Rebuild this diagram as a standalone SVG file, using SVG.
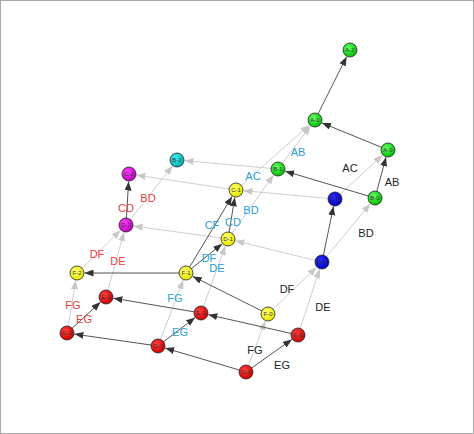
<svg xmlns="http://www.w3.org/2000/svg" width="474" height="434" viewBox="0 0 474 434">
<defs>
<marker id="ad" markerUnits="userSpaceOnUse" markerWidth="9" markerHeight="7" refX="9" refY="3.5" orient="auto"><path d="M0,0 L9,3.5 L0,7 z" fill="#333"/></marker>
<marker id="al" markerUnits="userSpaceOnUse" markerWidth="9" markerHeight="7" refX="9" refY="3.5" orient="auto"><path d="M0,0 L9,3.5 L0,7 z" fill="#c8c8c8"/></marker>
<radialGradient id="gG" cx="40%" cy="35%" r="65%"><stop offset="0" stop-color="#66ff66"/><stop offset="1" stop-color="#00c000"/></radialGradient>
<radialGradient id="gR" cx="40%" cy="35%" r="65%"><stop offset="0" stop-color="#ff4040"/><stop offset="1" stop-color="#d00000"/></radialGradient>
<radialGradient id="gY" cx="40%" cy="35%" r="65%"><stop offset="0" stop-color="#ffff70"/><stop offset="1" stop-color="#e8e800"/></radialGradient>
<radialGradient id="gB" cx="40%" cy="35%" r="65%"><stop offset="0" stop-color="#2a2aff"/><stop offset="1" stop-color="#0000c0"/></radialGradient>
<radialGradient id="gM" cx="40%" cy="35%" r="65%"><stop offset="0" stop-color="#ff40ff"/><stop offset="1" stop-color="#c000c0"/></radialGradient>
<radialGradient id="gC" cx="40%" cy="35%" r="65%"><stop offset="0" stop-color="#40f0f0"/><stop offset="1" stop-color="#00b0b8"/></radialGradient>
</defs>
<style>
.d{stroke:#555;stroke-width:1;fill:none;marker-end:url(#ad)}
.l{stroke:#cfcfcf;stroke-width:1;fill:none;marker-end:url(#al)}
.n circle{stroke:#222;stroke-width:0.8}
.n text{font-family:"Liberation Sans",Arial,sans-serif;font-size:6px;fill:#333;text-anchor:middle}
.e{font-family:"Liberation Sans",Arial,sans-serif;font-size:11px;text-anchor:middle}
.k{fill:#222}.b{fill:#2a9fd6}.r{fill:#ec3c3c}
</style>
<rect x="0.5" y="0.5" width="473" height="433" fill="#fff" stroke="#a8a8a8"/>
<g id="connectors">
<line class="l" x1="278" y1="169" x2="310.5" y2="126"/>
<line class="l" x1="335" y1="199" x2="382.5" y2="155.1"/>
<line class="l" x1="322" y1="262" x2="370.2" y2="203.8"/>
<line class="l" x1="268" y1="314" x2="316.6" y2="267.2"/>
<line class="l" x1="298" y1="335" x2="319.7" y2="269.1"/>
<line class="l" x1="246" y1="372" x2="265.3" y2="321"/>
<line class="l" x1="278" y1="169" x2="184.5" y2="160.7"/>
<line class="l" x1="335" y1="199" x2="243.5" y2="190.7"/>
<line class="l" x1="236" y1="190" x2="136.4" y2="175.1"/>
<line class="l" x1="322" y1="262" x2="235.3" y2="240.8"/>
<line class="l" x1="228" y1="239" x2="133.4" y2="226"/>
<line class="l" x1="236" y1="190" x2="309.4" y2="125"/>
<line class="l" x1="228" y1="239" x2="273.6" y2="175.1"/>
<line class="l" x1="201" y1="313" x2="225.4" y2="246"/>
<line class="l" x1="158" y1="346" x2="183.3" y2="280"/>
<line class="l" x1="126" y1="225" x2="172.4" y2="165.9"/>
<line class="l" x1="77" y1="273" x2="120.6" y2="230.3"/>
<line class="l" x1="106" y1="297" x2="124" y2="232.2"/>
<line class="l" x1="67" y1="333" x2="75.8" y2="280.4"/>
<line class="d" x1="315" y1="120" x2="346.6" y2="56.7"/>
<line class="d" x1="375" y1="198" x2="386" y2="157.2"/>
<line class="d" x1="388" y1="150" x2="321.9" y2="122.9"/>
<line class="d" x1="375" y1="198" x2="285.2" y2="171.2"/>
<line class="d" x1="322" y1="262" x2="333.5" y2="206.3"/>
<line class="d" x1="268" y1="314" x2="192.7" y2="276.4"/>
<line class="d" x1="298" y1="335" x2="208.3" y2="314.7"/>
<line class="d" x1="246" y1="372" x2="165.2" y2="348.1"/>
<line class="d" x1="246" y1="372" x2="291.9" y2="339.4"/>
<line class="d" x1="158" y1="346" x2="195.1" y2="317.6"/>
<line class="d" x1="67" y1="333" x2="100.5" y2="302.1"/>
<line class="d" x1="158" y1="346" x2="74.4" y2="334.1"/>
<line class="d" x1="201" y1="313" x2="113.4" y2="298.2"/>
<line class="d" x1="186" y1="273" x2="84.5" y2="273"/>
<line class="d" x1="186" y1="273" x2="232.1" y2="196.4"/>
<line class="d" x1="186" y1="273" x2="222.2" y2="243.7"/>
<line class="d" x1="228" y1="239" x2="234.8" y2="197.4"/>
<line class="d" x1="126" y1="225" x2="128.6" y2="181.5"/>
<text class="e k" x="392" y="186">AB</text>
<text class="e k" x="350" y="172">AC</text>
<text class="e k" x="366" y="237">BD</text>
<text class="e k" x="287" y="293">DF</text>
<text class="e k" x="323" y="311">DE</text>
<text class="e k" x="255" y="354">FG</text>
<text class="e k" x="282" y="369">EG</text>
<text class="e b" x="298" y="156">AB</text>
<text class="e b" x="253" y="180">AC</text>
<text class="e b" x="251" y="214">BD</text>
<text class="e b" x="233" y="226">CD</text>
<text class="e b" x="212" y="229">CF</text>
<text class="e b" x="209" y="262">DF</text>
<text class="e b" x="217" y="272">DE</text>
<text class="e b" x="175" y="302">FG</text>
<text class="e b" x="180" y="336">EG</text>
<text class="e r" x="148" y="202">BD</text>
<text class="e r" x="126" y="212">CD</text>
<text class="e r" x="97" y="258">DF</text>
<text class="e r" x="118" y="265">DE</text>
<text class="e r" x="73" y="309">FG</text>
<text class="e r" x="84" y="323">EG</text>
</g>
<g id="A-2" class="n"><circle cx="350" cy="50" r="7" fill="url(#gG)"/><text x="350" y="52">A-2</text></g>
<g id="A-1" class="n"><circle cx="315" cy="120" r="7" fill="url(#gG)"/><text x="315" y="122">A-1</text></g>
<g id="A-0" class="n"><circle cx="388" cy="150" r="7" fill="url(#gG)"/><text x="388" y="152">A-0</text></g>
<g id="B-0" class="n"><circle cx="375" cy="198" r="7" fill="url(#gG)"/><text x="375" y="200">B-0</text></g>
<g id="B-1" class="n"><circle cx="278" cy="169" r="7" fill="url(#gG)"/><text x="278" y="171">B-1</text></g>
<g id="C-0" class="n"><circle cx="335" cy="199" r="7" fill="url(#gB)"/><text x="335" y="201">C-0</text></g>
<g id="D-0" class="n"><circle cx="322" cy="262" r="7" fill="url(#gB)"/><text x="322" y="264">D-0</text></g>
<g id="F-0" class="n"><circle cx="268" cy="314" r="7" fill="url(#gY)"/><text x="268" y="316">F-0</text></g>
<g id="E-0" class="n"><circle cx="298" cy="335" r="7" fill="url(#gR)"/><text x="298" y="337">E-0</text></g>
<g id="G-0" class="n"><circle cx="246" cy="372" r="7" fill="url(#gR)"/><text x="246" y="374">G-0</text></g>
<g id="B-2" class="n"><circle cx="177" cy="160" r="7" fill="url(#gC)"/><text x="177" y="162">B-2</text></g>
<g id="C-2" class="n"><circle cx="129" cy="174" r="7" fill="url(#gM)"/><text x="129" y="176">C-2</text></g>
<g id="D-2" class="n"><circle cx="126" cy="225" r="7" fill="url(#gM)"/><text x="126" y="227">D-2</text></g>
<g id="C-1" class="n"><circle cx="236" cy="190" r="7" fill="url(#gY)"/><text x="236" y="192">C-1</text></g>
<g id="D-1" class="n"><circle cx="228" cy="239" r="7" fill="url(#gY)"/><text x="228" y="241">D-1</text></g>
<g id="F-1" class="n"><circle cx="186" cy="273" r="7" fill="url(#gY)"/><text x="186" y="275">F-1</text></g>
<g id="F-2" class="n"><circle cx="77" cy="273" r="7" fill="url(#gY)"/><text x="77" y="275">F-2</text></g>
<g id="E-2" class="n"><circle cx="106" cy="297" r="7" fill="url(#gR)"/><text x="106" y="299">E-2</text></g>
<g id="G-2" class="n"><circle cx="67" cy="333" r="7" fill="url(#gR)"/><text x="67" y="335">G-2</text></g>
<g id="E-1" class="n"><circle cx="201" cy="313" r="7" fill="url(#gR)"/><text x="201" y="315">E-1</text></g>
<g id="G-1" class="n"><circle cx="158" cy="346" r="7" fill="url(#gR)"/><text x="158" y="348">G-1</text></g>
</svg>
